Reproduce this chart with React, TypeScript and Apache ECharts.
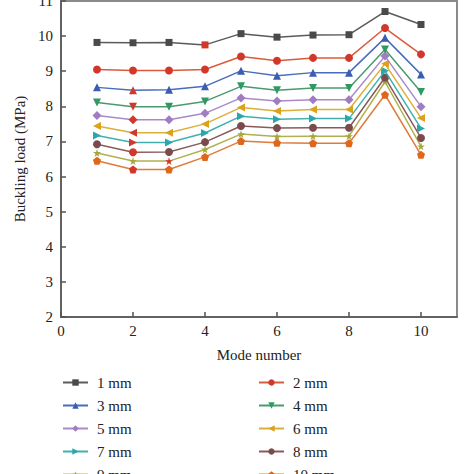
import React, { useEffect, useRef } from "react";
import * as echarts from "echarts";

const modes = [1, 2, 3, 4, 5, 6, 7, 8, 9, 10];
const seriesNames = ["1 mm", "2 mm", "3 mm", "4 mm", "5 mm", "6 mm", "7 mm", "8 mm", "9 mm", "10 mm"];
const s1 = [9.82, 9.81, 9.82, 9.75, 10.07, 9.97, 10.03, 10.04, 10.7, 10.33];
const s2 = [9.05, 9.02, 9.02, 9.05, 9.42, 9.3, 9.38, 9.38, 10.23, 9.48];
const s3 = [8.54, 8.46, 8.47, 8.57, 9.01, 8.87, 8.96, 8.96, 9.95, 8.91];
const s4 = [8.11, 7.99, 7.99, 8.14, 8.57, 8.46, 8.52, 8.52, 9.62, 8.41];
const s5 = [7.74, 7.62, 7.62, 7.8, 8.24, 8.15, 8.19, 8.19, 9.43, 7.99];
const s6 = [7.44, 7.25, 7.25, 7.5, 7.97, 7.87, 7.91, 7.91, 9.21, 7.67];
const s7 = [7.17, 6.97, 6.97, 7.24, 7.72, 7.63, 7.65, 7.65, 9.01, 7.37];
const s8 = [6.92, 6.69, 6.7, 6.98, 7.44, 7.38, 7.39, 7.39, 8.82, 7.1];
const s9 = [6.67, 6.44, 6.44, 6.77, 7.21, 7.14, 7.15, 7.15, 8.7, 6.86];
const s10 = [6.45, 6.2, 6.2, 6.56, 7.01, 6.96, 6.95, 6.95, 8.33, 6.62];
const allValues = [s1, s2, s3, s4, s5, s6, s7, s8, s9, s10];

const colors = ["#4a4a4a", "#d2372b", "#3a5db0", "#2f9a60", "#a07cc2", "#dba21a", "#2aa7a8", "#7b4a4c", "#a4a83a", "#e0661a"];
const lineColors = ["#5a5a5a", "#dc5a3c", "#4a6cbc", "#4a9a70", "#a88ac8", "#ddae3a", "#40b0b0", "#8a5a5a", "#b0b050", "#e07a3a"];
// markers drawn red in the original figure: [series index, point index]
const redMarkers = [[0, 3], [2, 1], [3, 1], [4, 1], [5, 1], [6, 1], [7, 1], [8, 2], [9, 1]];
const markerRed = "#d2372b";

const STAR = "path://M50,0 L61.17,34.63 L97.55,34.55 L68.07,55.87 L79.39,90.45 L50,69 L20.61,90.45 L31.93,55.87 L2.45,34.55 L38.83,34.63 Z";
const PENT = "path://M50,0 L97.55,34.55 L79.39,90.45 L20.61,90.45 L2.45,34.55 Z";
const symbols = [
  "rect",
  "circle",
  "triangle",
  "path://M0,0 L10,0 L5,9 Z",
  "diamond",
  "path://M9,0 L0,5 L9,10 Z",
  "path://M0,0 L9,5 L0,10 Z",
  "circle",
  STAR,
  PENT,
];
const symbolSizes = [7, 8, 8, 8, 9, 8, 8, 8, 8, 8];

const FONT = "'Liberation Serif', 'Times New Roman', serif";

export default function App() {
  const ref = useRef<HTMLDivElement>(null);
  useEffect(() => {
    if (!ref.current) return;
    const chart = echarts.init(ref.current, undefined, { renderer: "svg" });
    const series = allValues.map((vals, si) => ({
      name: seriesNames[si],
      type: "line",
      symbol: symbols[si],
      symbolSize: symbolSizes[si],
      itemStyle: { color: colors[si] },
      lineStyle: { color: lineColors[si], width: 1.5 },
      data: vals.map((v, pi) => {
        const red = redMarkers.some(([a, b]) => a === si && b === pi);
        return red
          ? { value: [modes[pi], v], itemStyle: { color: markerRed } }
          : { value: [modes[pi], v] };
      }),
      z: 10 - si,
    }));
    const legendCommon = {
      orient: "vertical",
      itemWidth: 25,
      itemHeight: 8,
      itemGap: 8,
      height: 300,
      padding: 0,
      selectedMode: false,
      textStyle: { fontFamily: FONT, fontSize: 15, color: "#222", padding: [0, 0, 0, 4] },
    };
    chart.setOption({
      animation: false,
      backgroundColor: "#fff",
      grid: {
        left: 61,
        right: 17,
        top: 1,
        bottom: 157,
        show: true,
        borderColor: "#8a8a8a",
        borderWidth: 2,
        outerBoundsMode: "none",
      },
      legend: [
        { ...legendCommon, left: 62, top: 375, data: ["1 mm", "3 mm", "5 mm", "7 mm", "9 mm"] },
        { ...legendCommon, left: 258, top: 375, data: ["2 mm", "4 mm", "6 mm", "8 mm", "10 mm"] },
      ],
      xAxis: {
        type: "value",
        min: 0,
        max: 11,
        interval: 2,
        name: "Mode number",
        nameLocation: "middle",
        nameGap: 30,
        nameTextStyle: { fontFamily: FONT, fontSize: 15, color: "#222" },
        axisLine: { lineStyle: { color: "#555", width: 1.5 } },
        axisTick: { inside: true, length: 5, lineStyle: { color: "#555", width: 1.5 } },
        axisLabel: { fontFamily: FONT, fontSize: 15, color: "#222", margin: 6, showMaxLabel: false },
        splitLine: { show: false },
      },
      yAxis: {
        type: "value",
        min: 2,
        max: 11,
        interval: 1,
        name: "Buckling load (MPa)",
        nameLocation: "middle",
        nameGap: 29,
        nameTextStyle: { fontFamily: FONT, fontSize: 15, color: "#222" },
        axisLine: { show: true, lineStyle: { color: "#555", width: 1.5 } },
        axisTick: { show: true, inside: true, length: 5, lineStyle: { color: "#555", width: 1.5 } },
        axisLabel: { fontFamily: FONT, fontSize: 15, color: "#222", margin: 8 },
        splitLine: { show: false },
      },
      series,
    });
    return () => chart.dispose();
  }, []);
  return <div ref={ref} style={{ width: 474, height: 474, position: "absolute", left: 0, top: 0 }} />;
}
